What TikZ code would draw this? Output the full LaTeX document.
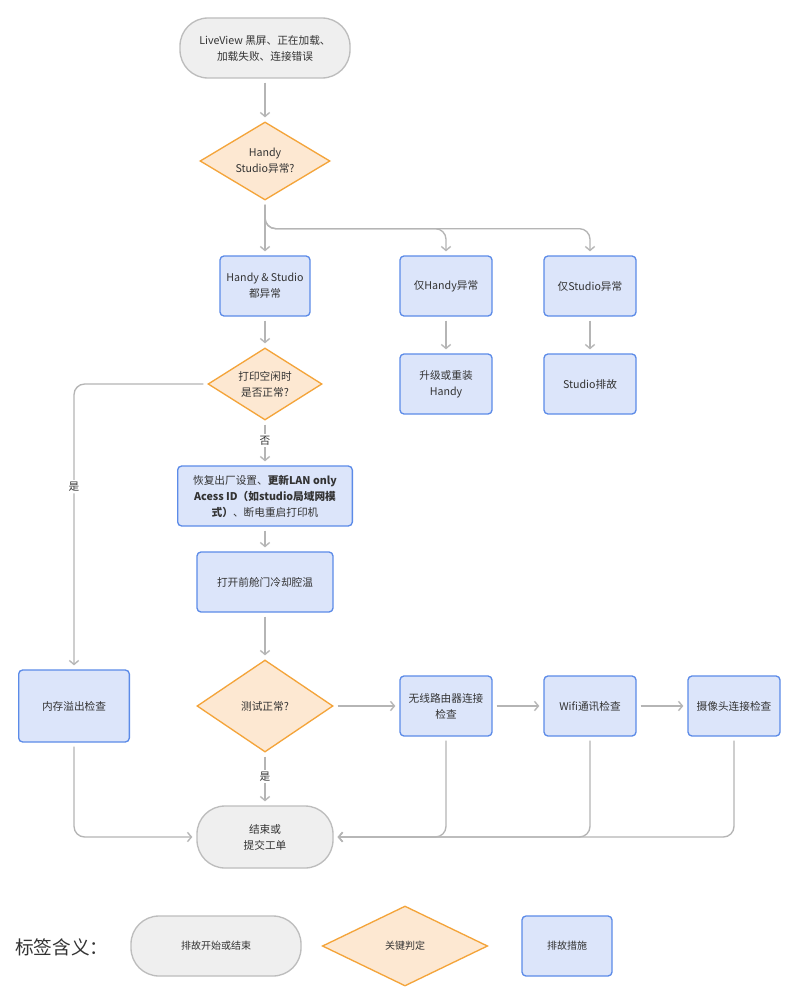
\documentclass[tikz,border=0pt]{standalone}
\usepackage{fontspec}
\setmainfont{Noto Sans CJK SC}
\usepackage{xcolor}
\usepackage{tikz}
\usetikzlibrary{arrows.meta,shapes.geometric}
\definecolor{termfill}{HTML}{EFEFEF}
\definecolor{termline}{HTML}{BDBDBD}
\definecolor{decfill}{HTML}{FDE8D2}
\definecolor{decline}{HTML}{F4A43A}
\definecolor{actfill}{HTML}{DCE5FA}
\definecolor{actline}{HTML}{5C8BE8}
\definecolor{connline}{HTML}{B5B5B5}
\definecolor{textgray}{HTML}{333333}

\begin{document}
\begin{tikzpicture}[x=0.75pt,y=-0.75pt,font=\fontsize{8}{12}\selectfont,text=textgray,
  term/.style={draw=termline,fill=termfill,line width=1pt,rounded corners=21pt,align=center,inner sep=0pt},
  decide/.style={diamond,aspect=1.6,draw=decline,fill=decfill,line width=1pt,align=center,inner sep=0pt},
  act/.style={draw=actline,fill=actfill,line width=1pt,rounded corners=3pt,align=center,inner sep=2pt},
  conn/.style={draw=connline,line width=1pt,-{Straight Barb[length=3pt,width=7pt]},shorten <=3pt,shorten >=3pt},
  tag/.style={fill=white,inner sep=1.5pt},
  legend/.style={font=\fontsize{7.5}{10}\selectfont}]
			\useasboundingbox[fill=white] (0,0) rectangle (800,1006);
			\node[term,minimum width=127.5pt,minimum height=45pt] (start) at (265,48) {LiveView 黑屏、正在加载、\\加载失败、连接错误};
			\node[decide,minimum width=97.5pt,minimum height=58.5pt] (hsdiam) at (265,161) {Handy\\Studio异常?};
			\node[act,minimum width=67.5pt,minimum height=45pt] (both) at (265,286) {Handy \& Studio\\都异常};
			\node[act,minimum width=69pt,minimum height=45pt] (handy) at (446,286) {仅Handy异常};
			\node[act,minimum width=69pt,minimum height=45pt] (studio) at (590,286) {仅Studio异常};
			\node[act,minimum width=69pt,minimum height=45pt] (upgrade) at (446,384) {升级或重装\\Handy};
			\node[act,minimum width=69pt,minimum height=45pt] (studiofix) at (590,384) {Studio排故};
			\node[decide,minimum width=85.5pt,minimum height=54pt] (idle) at (265,384) {打印空闲时\\是否正常?};
			\node[act,minimum width=131pt,minimum height=45pt] (reset) at (265,496) {恢复出厂设置、\textbf{更新LAN only}\\\textbf{Acess ID（如studio局域网模}\\\textbf{式）}、断电重启打印机};
			\node[act,minimum width=102pt,minimum height=45pt] (cool) at (265,582) {打开前舱门冷却腔温};
			\node[decide,minimum width=102pt,minimum height=69pt] (test) at (265,706) {测试正常?};
			\node[term,minimum width=102pt,minimum height=46.5pt] (finish) at (265,837) {结束或\\提交工单};
			\node[act,minimum width=83pt,minimum height=54pt] (memory) at (74,706) {内存溢出检查};
			\node[act,minimum width=69pt,minimum height=45pt] (router) at (446,706) {无线路由器连接\\检查};
			\node[act,minimum width=69pt,minimum height=45pt] (wifi) at (590,706) {Wifi通讯检查};
			\node[act,minimum width=69pt,minimum height=45pt] (camera) at (734,706) {摄像头连接检查};

			\draw[conn] (start) -- (hsdiam);
			\draw[conn] (hsdiam) -- (both);
			\draw[conn,rounded corners=8pt] (hsdiam.south) -- ++(0,28) -| (handy.north);
			\draw[conn,rounded corners=8pt] (hsdiam.south) -- ++(0,28) -| (studio.north);
			\draw[conn] (handy) -- (upgrade);
			\draw[conn] (studio) -- (studiofix);
			\draw[conn] (both) -- (idle);
			\draw[conn] (idle) -- node[tag,pos=0.45] {否} (reset);
			\draw[conn,rounded corners=8pt] (idle.west) -| node[tag,pos=0.68] {是} (memory.north);
			\draw[conn] (reset) -- (cool);
			\draw[conn] (cool) -- (test);
			\draw[conn] (test) -- node[tag,pos=0.45] {是} (finish);
			\draw[conn] (test) -- (router);
			\draw[conn] (router) -- (wifi);
			\draw[conn] (wifi) -- (camera);
			\draw[conn,rounded corners=8pt] (memory.south) |- (finish.west);
			\draw[conn,rounded corners=8pt] (router.south) |- (finish.east);
			\draw[conn,rounded corners=8pt] (wifi.south) |- (finish.east);
			\draw[conn,rounded corners=8pt] (camera.south) |- (finish.east);

			\node[anchor=west,inner sep=0pt,font=\fontsize{14}{16}\selectfont] (legtitle) at (15,947) {标签含义：};
			\node[term,legend,minimum width=127.5pt,minimum height=45pt] (legterm) at (216,946) {排故开始或结束};
			\node[decide,legend,minimum width=124pt,minimum height=60pt] (legdec) at (405,946) {关键判定};
			\node[act,legend,minimum width=67.5pt,minimum height=45pt] (legact) at (567,946) {排故措施};
		\end{tikzpicture}
\end{document}
